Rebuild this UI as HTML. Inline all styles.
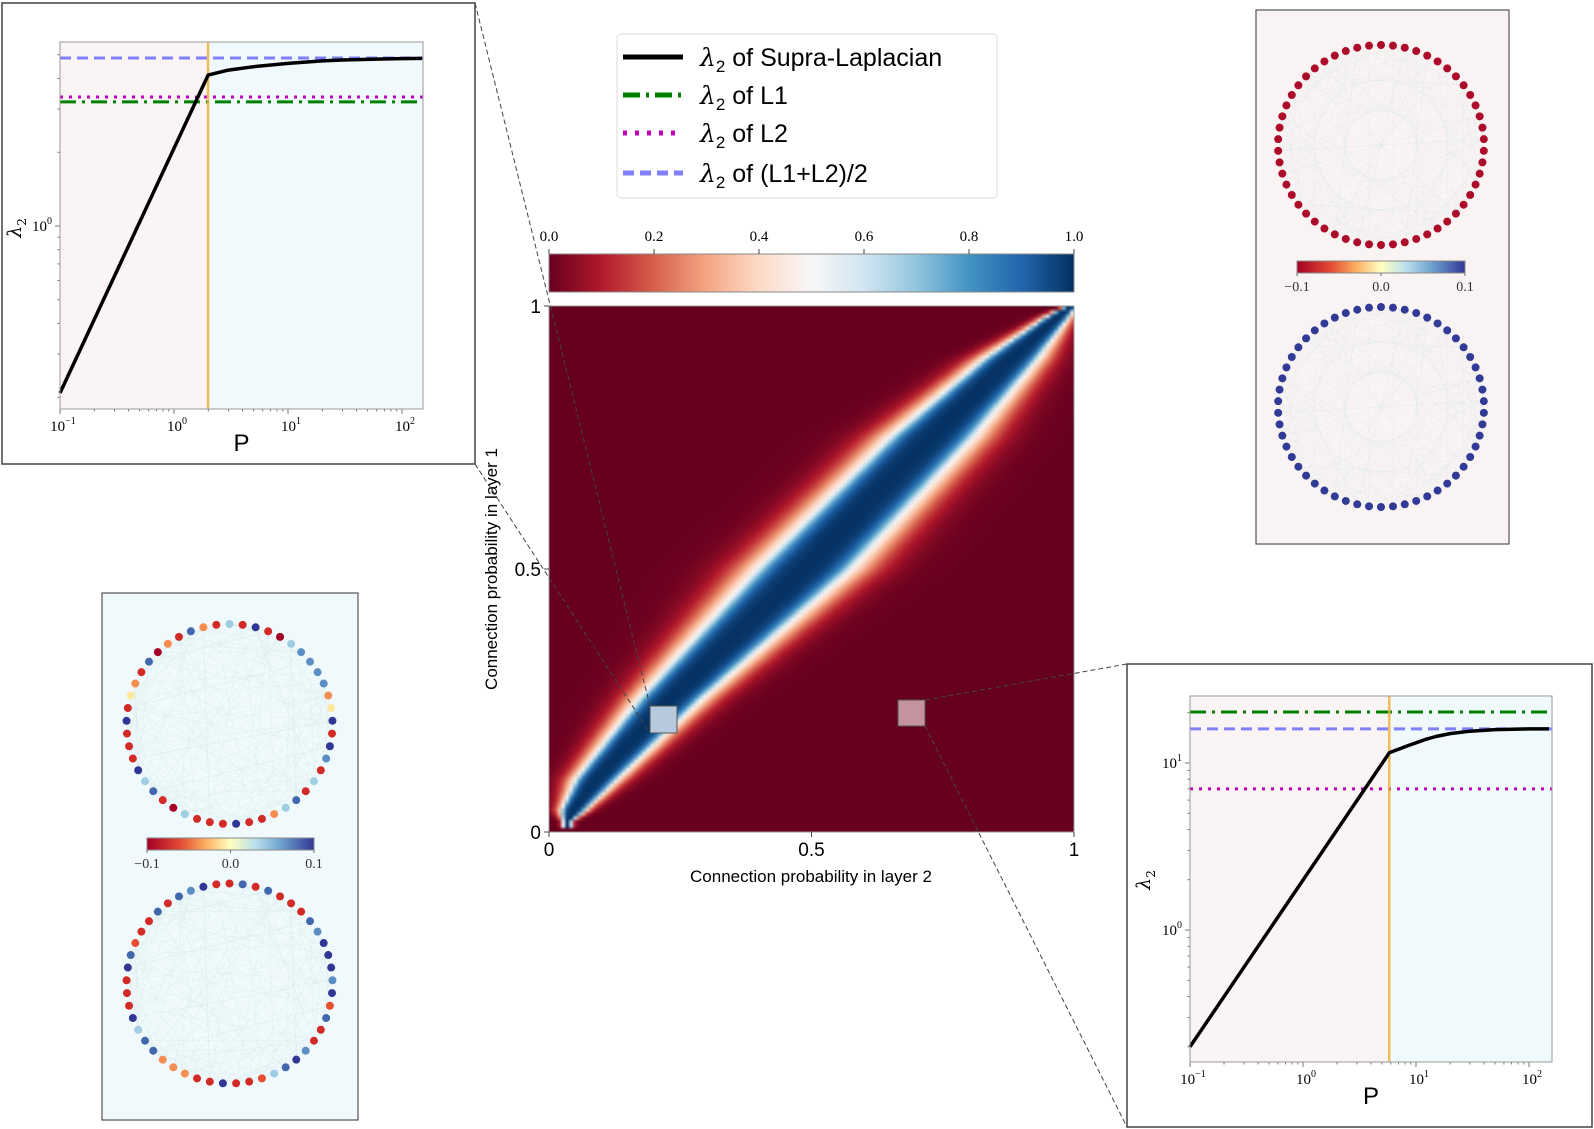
<!DOCTYPE html>
<html><head><meta charset="utf-8">
<style>
html,body{margin:0;padding:0;background:#fff;}
#root{position:relative;width:1594px;height:1129px;overflow:hidden;}
svg{position:absolute;left:0;top:0;}
canvas{position:absolute;}
</style></head>
<body>
<div id="root">
<canvas id="heat" width="130" height="130" style="left:549px;top:306px;width:525px;height:526px;"></canvas>
<svg id="svg" width="1594" height="1129" viewBox="0 0 1594 1129"></svg>
</div>
<script>
// ---------- DATA ----------
const bandY      = [0.02, 0.04, 0.10, 0.25, 0.50, 0.75, 0.90, 0.985, 1.0];
const bandCenter = [0.035,0.045,0.090,0.228,0.486,0.728,0.880,0.975, 0.995];
const bandHalf   = [0.008,0.022,0.040,0.060,0.090,0.080,0.052,0.020, 0.008];
const cbTicks = ["0.0","0.2","0.4","0.6","0.8","1.0"];
const cbTickVals = [0,0.2,0.4,0.6,0.8,1.0];
const hmTickVals = [0,0.5,1];
const hmTickLabels = ["0","0.5","1"];

const pA   = [0.1, 1.99, 3, 5, 10, 20, 30, 60, 100, 150];
const lamA = [0.208, 4.13, 4.33, 4.47, 4.61, 4.72, 4.76, 4.80, 4.82, 4.83];
const linesA = [3.21, 3.36, 4.85];
const pStarA = 1.99;
const pB   = [0.1, 5.8, 7, 8.5, 10, 12, 15, 20, 30, 50, 100, 150];
const lamB = [0.2, 11.5, 12.1, 12.7, 13.2, 13.8, 14.4, 15.0, 15.5, 15.85, 16.0, 16.0];
const linesB = [20.2, 7.0, 16.0];
const pStarB = 5.8;
const xTickExp = [-1,0,1,2];

const leftTopNodes = ["lb","r","nv","r","dr","lb","mb","mb","mb","mb","o","y","nv","r","nv","mb","r","lb","r","b","lb","o","r","r","nv","r","r","r","lb","dr","r","b","lb","nv","r","r","r","nv","r","y","o","r","b","dr","o","r","b","o","r"];
const leftBotNodes = ["r","b","r","b","r","r","r","b","mb","nv","nv","nv","mb","nv","or","b","r","r","mb","nv","b","lb","or","r","r","nv","r","r","o","o","o","b","b","lb","nv","r","r","r","nv","b","or","r","r","b","r","b","mb","nv","r"];
const rightTopCount = 54, rightBotCount = 54;

// ---------- helpers ----------
const NS="http://www.w3.org/2000/svg";
const svg=document.getElementById('svg');
function el(tag,attrs,parent){const e=document.createElementNS(NS,tag);for(const k in attrs)e.setAttribute(k,attrs[k]);(parent||svg).appendChild(e);return e;}
const nodeCol={dr:"#a50026",r:"#d22b27",or:"#ea4e31",o:"#f88d52",y:"#fee99a",lb:"#9fcde3",mb:"#5b8ec2",b:"#4168ad",nv:"#313695"};
const rdbu=[[0,"#67001f"],[0.1,"#b2182b"],[0.2,"#d6604d"],[0.3,"#f4a582"],[0.4,"#fddbc7"],[0.5,"#f7f7f7"],[0.6,"#d1e5f0"],[0.7,"#92c5de"],[0.8,"#4393c3"],[0.9,"#2166ac"],[1,"#053061"]];
function hex(h){return [parseInt(h.substr(1,2),16),parseInt(h.substr(3,2),16),parseInt(h.substr(5,2),16)];}
function cmap(stops,v){v=Math.max(0,Math.min(1,v));for(let i=1;i<stops.length;i++){if(v<=stops[i][0]){const t=(v-stops[i-1][0])/(stops[i][0]-stops[i-1][0]);const a=hex(stops[i-1][1]),b=hex(stops[i][1]);return a.map((c,j)=>Math.round(c+(b[j]-c)*t));}}return hex(stops[stops.length-1][1]);}
function interp(xs,ys,x){if(x<=xs[0])return ys[0];for(let i=1;i<xs.length;i++){if(x<=xs[i]){const t=(x-xs[i-1])/(xs[i]-xs[i-1]);return ys[i-1]+(ys[i]-ys[i-1])*t;}}return ys[ys.length-1];}

// ---------- heatmap ----------
const HX0=549,HX1=1074,HY0=306,HY1=832;
function hx(v){return HX0+(HX1-HX0)*v;}
function hy(v){return HY1-(HY1-HY0)*v;}
(function(){
 const c=document.getElementById('heat').getContext('2d');const N=130;const img=c.createImageData(N,N);
 for(let r=0;r<N;r++){const yv=1-(r+0.5)/N;
  for(let q=0;q<N;q++){const xv=(q+0.5)/N;let v=0;
   if(yv>=bandY[0]-0.01){const cen=interp(bandY,bandCenter,yv),hw=interp(bandY,bandHalf,yv);const d=Math.abs(xv-cen)/hw;
     v = d<1 ? 0.5+0.5*Math.tanh((1-d)*3.0) : 0.5+0.5*Math.tanh((1-d)*1.4);}
   const col=cmap(rdbu,v);const i=(r*N+q)*4;img.data[i]=col[0];img.data[i+1]=col[1];img.data[i+2]=col[2];img.data[i+3]=255;}}
 c.putImageData(img,0,0);
})();
const hmAxes=el('g',{});


el('rect',{x:HX0,y:HY0,width:HX1-HX0,height:HY1-HY0,fill:'none',stroke:'#999','stroke-width':1},hmAxes);
hmTickVals.forEach((v,i)=>{
 el('line',{x1:hx(v),x2:hx(v),y1:HY1,y2:HY1+5,stroke:'#444'},hmAxes);
 const tx=el('text',{x:hx(v),y:HY1+24,'text-anchor':'middle','font-family':'Liberation Sans, sans-serif','font-size':19,fill:'#000'},hmAxes);tx.textContent=hmTickLabels[i];
 
 
 el('line',{x1:HX0-5,x2:HX0,y1:hy(v),y2:hy(v),stroke:'#444'},hmAxes);
 const ty=el('text',{x:HX0-8,y:hy(v)+7,'text-anchor':'end','font-family':'Liberation Sans, sans-serif','font-size':19,fill:'#000'},hmAxes);ty.textContent=hmTickLabels[i];
 
 
});
const xl=el('text',{x:811,y:882,'text-anchor':'middle','font-family':'Liberation Sans, sans-serif','font-size':17},hmAxes);xl.textContent='Connection probability in layer 2';


const yl=el('text',{x:0,y:0,'text-anchor':'middle','font-family':'Liberation Sans, sans-serif','font-size':17,transform:'translate(497,569) rotate(-90)'},hmAxes);yl.textContent='Connection probability in layer 1';



const cb=el('g',{});


const defs=el('defs',{});
const gr=el('linearGradient',{id:'rdbu',x1:0,x2:1,y1:0,y2:0},defs);
rdbu.forEach(s=>el('stop',{offset:s[0],'stop-color':s[1]},gr));
const gr2=el('linearGradient',{id:'rdylbu',x1:0,x2:1,y1:0,y2:0},defs);
[["0","#a50026"],["0.2","#e34a33"],["0.35","#fdae61"],["0.5","#ffffbf"],["0.65","#b9dfec"],["0.8","#6fa3cf"],["1","#313695"]].forEach(s=>el('stop',{offset:s[0],'stop-color':s[1]},gr2));
el('rect',{x:549,y:254,width:525,height:38,fill:'url(#rdbu)',stroke:'#888','stroke-width':1},cb);
cbTickVals.forEach((v,i)=>{const x=549+525*v;el('line',{x1:x,x2:x,y1:254,y2:249,stroke:'#444'},cb);
 const t=el('text',{x:x,y:241,'text-anchor':'middle','font-family':'Liberation Serif, serif','font-size':15},cb);t.textContent=cbTicks[i];
 
 });

const sq1=el('rect',{x:650,y:706,width:27,height:27,fill:'#b8c8dd',stroke:'#555','stroke-width':1});


const sq2=el('rect',{x:898,y:700,width:27,height:26,fill:'#c4939f',stroke:'#555','stroke-width':1});



[[475,3,650,706],[475,464,650,733],[925,700,1127,664],[925,726,1127,1127]].forEach(l=>{
 const ln=el('line',{x1:l[0],y1:l[1],x2:l[2],y2:l[3],stroke:'#444','stroke-width':1,'stroke-dasharray':'5,3'});
 
 });

// ---------- legend ----------
const lg=el('g',{});


el('rect',{x:617,y:34,width:380,height:164,rx:4,fill:'#fff',stroke:'#ddd','stroke-width':1},lg);
const legItems=[["Supra-Laplacian",{stroke:'#000','stroke-width':5}],["L1",{stroke:'#008000','stroke-width':5,'stroke-dasharray':'17,6,3,6'}],["L2",{stroke:'#bf00bf','stroke-width':5,'stroke-dasharray':'4,8'}],["(L1+L2)/2",{stroke:'#8080ff','stroke-width':5,'stroke-dasharray':'11,6'}]];
const legY=[57,95,133,173];
legItems.forEach((it,i)=>{const g=el('g',{},lg);
 
 
 el('line',Object.assign({x1:623,x2:683,y1:legY[i],y2:legY[i]},it[1]),g);
 const t=el('text',{x:700,y:legY[i]+9,'font-family':'Liberation Sans, sans-serif','font-size':25,fill:'#000'},g);
 const a=el('tspan',{'font-style':'italic','font-family':'DejaVu Serif, serif'},t);a.textContent='λ';
 const b=el('tspan',{'font-size':17,dy:6},t);b.textContent='2';
 const c2=el('tspan',{dy:-6},t);c2.textContent=' of '+it[0];
});

// ---------- insets ----------
function inset(o){
 const g=el('g',{});
 
 
 el('rect',{x:o.bx0,y:o.by0,width:o.bx1-o.bx0,height:o.by1-o.by0,fill:'#fff',stroke:'#444','stroke-width':1.5},g);
 const X=v=>o.x0+(Math.log10(v)-o.xmin)/(o.xmax-o.xmin)*(o.x1-o.x0);
 const Y=v=>o.y1-(Math.log10(v)-o.ymin)/(o.ymax-o.ymin)*(o.y1-o.y0);
 const xs=X(o.pStar);
 el('rect',{x:o.x0,y:o.y0,width:xs-o.x0,height:o.y1-o.y0,fill:'#faf4f4'},g);
 el('rect',{x:xs,y:o.y0,width:o.x1-xs,height:o.y1-o.y0,fill:'#f0f9fb'},g);
 for(let e=-1;e<=2;e++)for(let m=1;m<10;m++){const v=m*Math.pow(10,e);const lx=Math.log10(v);if(lx<o.xmin-1e-9||lx>o.xmax)continue;const x=X(v);el('line',{x1:x,x2:x,y1:o.y1,y2:o.y1+(m==1?5:2.5),stroke:'#555','stroke-width':0.8},g);}
 for(let e=-2;e<=2;e++)for(let m=1;m<10;m++){const v=m*Math.pow(10,e);const ly=Math.log10(v);if(ly<o.ymin||ly>o.ymax)continue;const y=Y(v);el('line',{x1:o.x0,x2:o.x0-(m==1?5:2.5),y1:y,y2:y,stroke:'#555','stroke-width':0.8},g);
  if(m==1){const t=el('text',{x:o.x0-8,y:y+5,'text-anchor':'end','font-family':'Liberation Serif, serif','font-size':15},g);const a=el('tspan',{},t);a.textContent='10';const b=el('tspan',{'font-size':10,dy:-7},t);b.textContent=String(e).replace('-','−');
   
   }}
 xTickExp.forEach(e=>{const x=X(Math.pow(10,e));const t=el('text',{x:x+3,y:o.y1+22,'text-anchor':'middle','font-family':'Liberation Serif, serif','font-size':15},g);const a=el('tspan',{},t);a.textContent='10';const b=el('tspan',{'font-size':10,dy:-7},t);b.textContent=String(e).replace('-','−');
  
  });
 const sty=[{stroke:'#008000','stroke-width':3,'stroke-dasharray':'16,6,3,6'},{stroke:'#bf00bf','stroke-width':3,'stroke-dasharray':'3,6'},{stroke:'#8080ff','stroke-width':3,'stroke-dasharray':'11,6'}];
 const nm=['l1-line','l2-line','avg-line'];
 o.lines.forEach((v,i)=>{const ln=el('line',Object.assign({x1:o.x0,x2:o.x1,y1:Y(v),y2:Y(v)},sty[i]),g);
  
  });
 const vl=el('line',{x1:xs,x2:xs,y1:o.y0,y2:o.y1,stroke:'#f0b33c','stroke-width':2.5,opacity:0.85},g);
 
 
 let d='M'+X(o.p[0])+','+Y(o.lam[0]);
 for(let i=1;i<o.p.length;i++)d+=' L'+X(o.p[i]).toFixed(1)+','+Y(o.lam[i]).toFixed(1);
 const pth=el('path',{d:d,fill:'none',stroke:'#000','stroke-width':3.5,'stroke-linejoin':'round'},g);
 
 
 el('rect',{x:o.x0,y:o.y0,width:o.x1-o.x0,height:o.y1-o.y0,fill:'none',stroke:'#999','stroke-width':1},g);
 const pl=el('text',{x:(o.x0+o.x1)/2,y:o.y1+42,'text-anchor':'middle','font-family':'Liberation Sans, sans-serif','font-size':24},g);pl.textContent='P';
 
 
 const lt=el('text',{x:0,y:0,'font-family':'DejaVu Serif, serif','font-size':19,'font-style':'italic',transform:'translate('+o.lamX+','+o.lamY+') rotate(-90)','text-anchor':'middle'},g);
 const a=el('tspan',{},lt);a.textContent='λ';const b=el('tspan',{'font-size':12,dy:5,'font-style':'normal'},lt);b.textContent='2';
 
 
}
inset({name:'inset-diagonal',bx0:2,by0:3,bx1:475,by1:464,x0:60,x1:423,y0:42,y1:409,xmin:-1,xmax:-1+363/114,ymin:-0.747,ymax:0.751,p:pA,lam:lamA,lines:linesA,pStar:pStarA,lamX:21,lamY:228});
inset({name:'inset-offdiagonal',bx0:1127,by0:664,bx1:1592,by1:1127,x0:1190,x1:1552,y0:696,y1:1062,xmin:-1,xmax:-1+362/113,ymin:-0.790,ymax:1.401,p:pB,lam:lamB,lines:linesB,pStar:pStarB,lamX:1150,lamY:880});

// ---------- network panels ----------
function network(g,cx,cy,rx,ry,cols,n,col,op){
 const N=cols?cols.length:n;
 const pts=[];for(let i=0;i<N;i++){const a=-Math.PI/2+2*Math.PI*i/N;pts.push([cx+rx*Math.cos(a),cy+ry*Math.sin(a)]);}
 let d='';for(let i=0;i<N;i++){[7,13,19,23].forEach(s=>{const j=(i*s+3)%N;if(j!==i)d+='M'+pts[i][0].toFixed(1)+','+pts[i][1].toFixed(1)+'L'+pts[j][0].toFixed(1)+','+pts[j][1].toFixed(1);});}
 el('path',{d:d,stroke:'#c8e2e2','stroke-width':0.5,opacity:op,fill:'none'},g);
 pts.forEach((p,i)=>{const c=el('circle',{cx:p[0],cy:p[1],r:4,fill:cols?nodeCol[cols[i]]:col},g);
  
  });
}
function smallCb(g,x0,x1,y0){
 el('rect',{x:x0,y:y0,width:x1-x0,height:12,fill:'url(#rdylbu)',stroke:'#888','stroke-width':1},g);
 [["−0.1",x0],["0.0",(x0+x1)/2],["0.1",x1]].forEach(t=>{el('line',{x1:t[1],x2:t[1],y1:y0+12,y2:y0+15,stroke:'#666'},g);
  const tx=el('text',{x:t[1],y:y0+30,'text-anchor':'middle','font-family':'Liberation Serif, serif','font-size':14,fill:'#333'},g);tx.textContent=t[0];
  
  });
}
const lp=el('g',{});


el('rect',{x:102,y:593,width:256,height:527,fill:'#f0f9fb',stroke:'#555','stroke-width':1.2},lp);
network(lp,229.5,724,103,100,leftTopNodes,0,null,0.35);
smallCb(lp,147,314,838);
network(lp,229.5,983.5,103,100,leftBotNodes,0,null,0.35);
const rp=el('g',{});


el('rect',{x:1256,y:10,width:253,height:534,fill:'#faf3f3',stroke:'#555','stroke-width':1.2},rp);
network(rp,1381,145,103,100,null,rightTopCount,'#ad0b2a',0.25);
smallCb(rp,1297,1465,261);
network(rp,1381,407,103,100,null,rightBotCount,'#323a98',0.25);
</script>
</body></html>
